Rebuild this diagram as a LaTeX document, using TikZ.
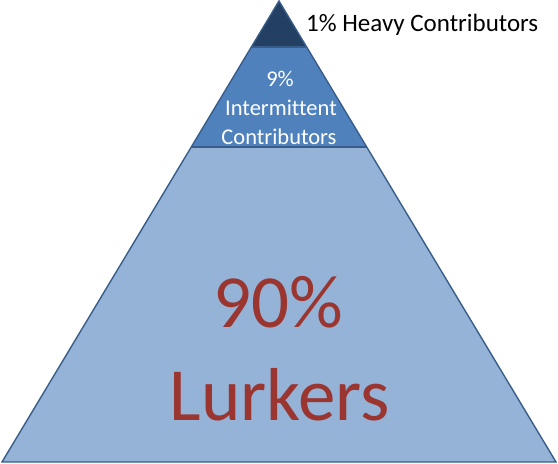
\documentclass[tikz,border=0pt]{standalone}
\usepackage{fontspec}
\setmainfont{Carlito}[Ligatures=NoCommon]
\usetikzlibrary{calc}
\definecolor{topblue}{HTML}{233F61}
\definecolor{midblue}{HTML}{4F81BD}
\definecolor{lowblue}{HTML}{95B3D7}
\definecolor{edgeblue}{HTML}{385D8A}
\definecolor{lurkred}{HTML}{9B3530}
\tikzset{
  tier/.style={draw=edgeblue, line width=1.4pt, line join=miter},
  lbl/.style={inner sep=0pt, anchor=base},
  midtxt/.style={lbl, text=white, font=\fontsize{22.5}{29}\selectfont},
  bigtxt/.style={lbl, text=lurkred, font=\fontsize{75}{90}\selectfont},
}
\begin{document}
\begin{tikzpicture}[x=1pt,y=-1pt]
\useasboundingbox (0,0) rectangle (558,464);
\coordinate (apex) at (279,1);
\coordinate (bl) at (2,462);
\coordinate (br) at (556,462);
\coordinate (l1) at ($(apex)!0.0998!(bl)$);
\coordinate (r1) at ($(apex)!0.0998!(br)$);
\coordinate (l2) at ($(apex)!0.3167!(bl)$);
\coordinate (r2) at ($(apex)!0.3167!(br)$);
\fill[lowblue] (l2) -- (r2) -- (br) -- (bl) -- cycle;
\fill[midblue] (l1) -- (r1) -- (r2) -- (l2) -- cycle;
\fill[topblue] (apex) -- (r1) -- (l1) -- cycle;
\draw[tier] (l1) -- (r1);
\draw[tier] (l2) -- (r2);
\draw[tier] (apex) -- (br) -- (bl) -- cycle;
\node[lbl, anchor=base west, font=\fontsize{25}{29}\selectfont] (heavy) at (306,31) {1\% Heavy Contributors};
\node[midtxt] (nine) at (280,86) {9\%};
\node[midtxt] (inter) at (281,115) {Intermittent};
\node[midtxt] (contr) at (279,144) {Contributors};
\node[bigtxt] (ninety) at (278,327) {90\%};
\node[bigtxt] (lurk) at (280,420) {Lurkers};
\end{tikzpicture}
\end{document}
